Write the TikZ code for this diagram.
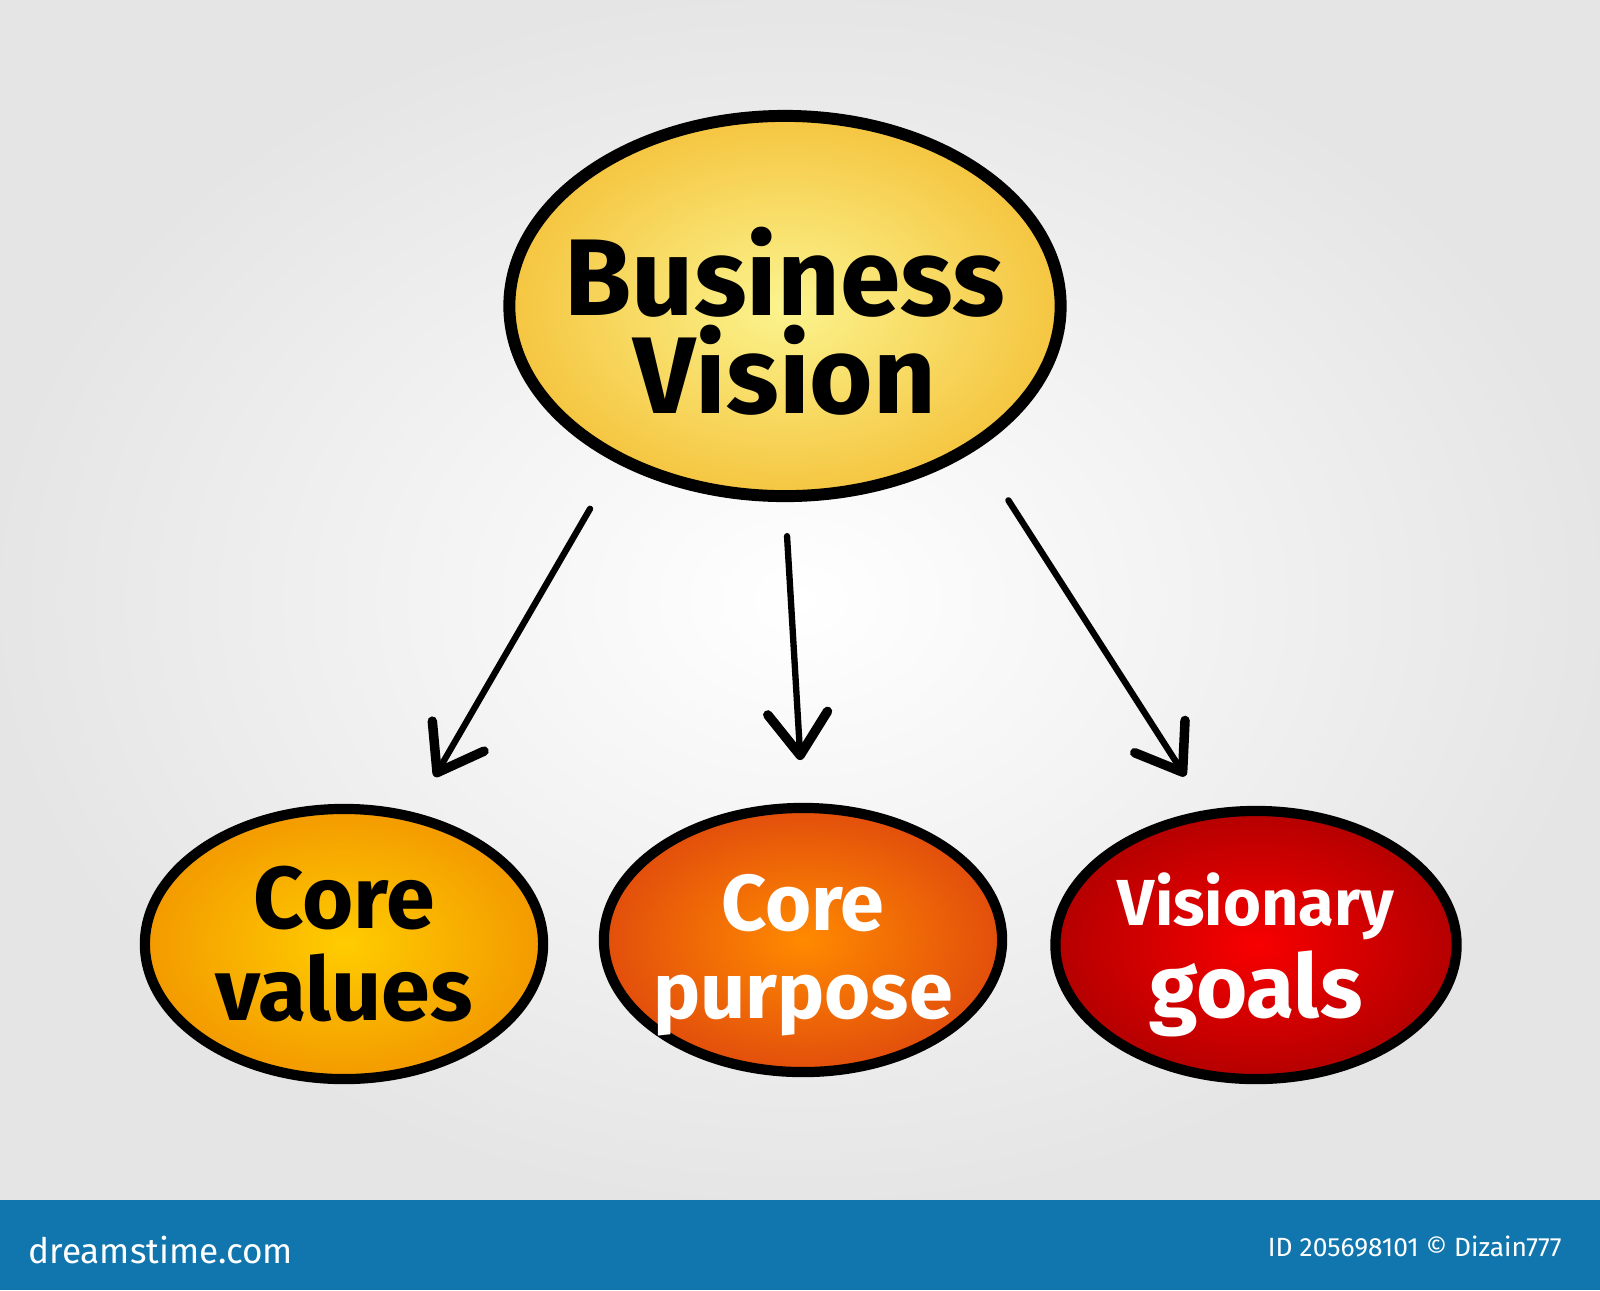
\documentclass[tikz,border=0pt]{standalone}
\usepackage{fontspec}
\setmainfont{Fira Sans}
\usetikzlibrary{shapes.geometric,arrows.meta}
\definecolor{footblue}{HTML}{1176AE}
\definecolor{bizin}{HTML}{FBF48E}
\definecolor{bizout}{HTML}{F5C540}
\begin{document}
\begin{tikzpicture}[x=0.01cm,y=-0.01cm,
  bubble/.style={draw, ellipse, line width=2.9pt, shading=radial, inner sep=0pt},
  arr/.style={line width=1.8pt, line cap=round, -{Straight Barb[length=12pt,width=17pt,line width=2.7pt,round]}}]
\useasboundingbox (0,0) rectangle (1600,1290);
% background and footer band
\shade[inner color=white, outer color=black!10] (0,0) rectangle (1600,1200);
\fill[footblue] (0,1200) rectangle (1600,1290);
% main idea
\node[bubble, line width=3.4pt, minimum width=5.51cm, minimum height=3.80cm, inner color=bizin, outer color=bizout,
  label={[align=center, yshift=-0.15cm, font=\bfseries\fontsize{31}{28}\selectfont]center:Business\\Vision}] (biz) at (785,306) {};
% three sub ideas
\definecolor{mycolor}{HTML}{F39A00}
\node[bubble, minimum width=3.98cm, minimum height=2.70cm, inner color={rgb,255:red,255;green,204;blue,0}, outer color=mycolor,
  label={[align=center, font=\bfseries\fontsize{25}{26}\selectfont]center:Core\\values}] (cv) at (344,944) {};
\definecolor{mycolor}{HTML}{E24E0C}
\node[bubble, minimum width=3.98cm, minimum height=2.64cm, inner color={rgb,255:red,255;green,138;blue,0}, outer color=mycolor,
  label={[align=center, text=white, yshift=-0.15cm, font=\bfseries\fontsize{22.5}{25}\selectfont]center:Core\\purpose}] (cp) at (803,940) {};
\definecolor{mycolor}{HTML}{B40000}
\node[bubble, minimum width=4.01cm, minimum height=2.68cm, inner color={rgb,255:red,248;green,0;blue,0}, outer color=mycolor,
  label={[align=center, text=white, yshift=-0.1cm, font=\bfseries\fontsize{25}{26}\selectfont]center:{\fontsize{18.5}{22}\selectfont Visionary}\\goals}] (vg) at (1256,945) {};
% arrows
\draw[arr, shorten <=15pt, shorten >=11.7pt] (biz.223) -- (cv.62);
\draw[arr, shorten <=9.7pt, shorten >=12.2pt] (biz.south) -- (cp.north);
\draw[arr, shorten <=17pt, shorten >=11.4pt] (biz.323.5) -- (vg.110.7);
% footer texts
\node[anchor=west, text=white, font=\fontsize{10}{12}\selectfont] (site) at (16,1250) {dreamstime.com};
\node[anchor=east, text=white, font=\fontsize{7.5}{9}\selectfont] (imgid) at (1574,1246) {ID 205698101 © Dizain777};
\end{tikzpicture}
\end{document}
